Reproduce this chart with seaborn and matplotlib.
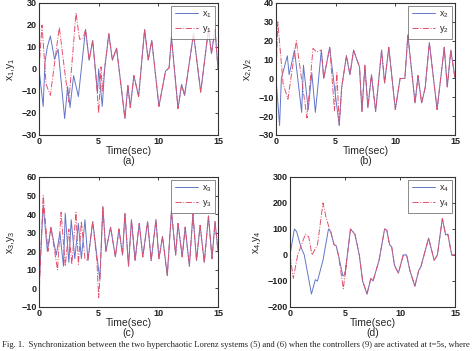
import numpy as np
import pandas as pd
import seaborn as sns
import matplotlib
matplotlib.use("Agg")
import matplotlib.pyplot as plt

# ---- values: (time, value) at peaks / troughs ----
# (a) x1, y1
x1_early = [(0, 0), (0.35, -17), (0.5, 3), (0.7, 10), (0.95, 15), (1.3, 4.5), (1.6, 9),
            (2.15, -22.5), (2.4, -8), (2.6, -17.5), (2.9, -3), (3.3, -12.5), (3.9, 18),
            (4.2, 4), (4.5, 13), (4.9, -11), (5.0, 0), (5.3, -17)]
y1_early = [(0, 0), (0.25, 20), (0.6, -7), (0.95, -12), (1.7, 19), (2.2, -3), (2.5, -15),
            (3.1, 25.5), (3.4, 13.5), (3.7, 14), (3.9, 18), (4.2, 4), (4.5, 13), (4.8, -5),
            (5.0, -20), (5.2, 1), (5.3, -10)]
sync1 = [(5.5, 0), (5.85, 16), (6.15, 4), (6.5, 9.5), (7.2, -22.5), (7.45, -7.5), (7.65, -17.5),
         (7.95, -3), (8.35, -12.5), (8.85, 18), (9.15, 4), (9.45, 13), (10.05, -17), (10.6, -1),
         (10.9, 0.5), (11.1, 14.5), (11.65, -18), (11.95, -7), (12.2, -12), (12.6, 3),
         (12.95, 16), (13.2, 5), (13.55, -10.5), (14.2, 18), (14.45, 7), (14.75, 18), (15, 0)]

# (b) x2, y2
x2_early = [(0, 0), (0.3, -25), (0.45, 0), (0.95, 12), (1.1, 2), (1.55, 15), (2.15, -18),
            (2.3, 7), (2.7, -16.5), (3.0, 3), (3.3, -18), (3.8, 15), (4.0, 0), (4.5, 16.5),
            (5.0, -10), (5.3, -25)]
y2_early = [(0, 0), (0.15, 30), (0.6, -3), (1.0, -11), (1.7, 20), (2.6, -21), (3.1, 16),
            (3.4, 14), (3.8, 15), (4.0, 0), (4.5, 16.5), (4.9, -17), (5.1, 3), (5.3, -25)]
sync2 = [(5.5, -5), (5.9, 12), (6.2, 2), (6.5, 15), (7.0, 6), (7.2, -17.5), (7.45, 7),
         (7.7, -15.5), (8.0, 2), (8.35, -17.5), (8.85, 15), (9.1, -2.5), (9.45, 16.5),
         (10.0, -16.5), (10.4, 0), (10.8, 0), (11.05, 23), (11.65, -13), (11.9, 1.5),
         (12.2, -13), (12.5, -5), (12.85, 19), (13.5, -16.5), (14.1, 16.5), (14.35, -4.5),
         (14.65, 15), (15, 0)]

# (c) x3, y3
x3_early = [(0, 0), (0.35, 45), (0.7, 20), (1.0, 33), (1.45, 18), (1.75, 30), (2.05, 12),
            (2.2, 40.5), (2.5, 14), (2.7, 37), (3.0, 16), (3.3, 35), (3.55, 16), (3.85, 37),
            (4.1, 15), (4.5, 36), (4.9, 15)]
y3_early = [(0, -4.5), (0.35, 50), (0.75, 20), (1.0, 33), (1.55, 10), (1.85, 41), (2.2, 12),
            (2.5, 32), (2.75, 13), (3.1, 41), (3.3, 13), (3.55, 36), (3.85, 16), (4.1, 15),
            (4.5, 36), (4.85, 15), (5.0, -5)]
sync3 = [(5.1, 4.5), (5.35, 44), (5.6, 20), (6.0, 33), (6.4, 17), (6.7, 32), (7.0, 18),
         (7.2, 40.5), (7.5, 12), (7.75, 37), (8.05, 15), (8.4, 35), (8.7, 17), (9.1, 36),
         (9.4, 15), (9.8, 37), (10.05, 16), (10.35, 28), (10.75, 7), (11.1, 41.5), (11.45, 18),
         (11.65, 35), (12.0, 17), (12.25, 33), (12.6, 12), (12.9, 40), (13.2, 15), (13.5, 34),
         (13.85, 14), (14.2, 39), (14.5, 16), (14.75, 36), (15, 20)]

# (d) x4, y4
x4_early = [(0, 0), (0.4, 100), (0.6, 90), (1.0, 30), (1.3, 0), (1.95, -150), (2.3, -95),
            (2.5, -100), (3.0, -20), (3.5, 100), (3.7, 90), (4.0, 40), (4.2, 35), (4.4, 0),
            (4.8, -80)]
y4_early = [(0, 0), (0.3, -90), (0.7, 0), (1.4, 80), (1.7, 70), (2.0, 0), (2.5, 40),
            (3.0, 200), (3.3, 140), (3.6, 100), (3.7, 90), (4.0, 40), (4.2, 35), (4.4, 0),
            (4.85, -130), (5.1, -40)]
sync4 = [(5.0, -75), (5.5, 100), (5.9, 80), (6.3, 0), (6.6, -100), (7.0, -150), (7.35, -90),
         (7.55, -100), (8.1, -20), (8.6, 100), (8.8, 95), (9.05, 40), (9.25, 30), (9.5, -40),
         (9.85, -70), (10.3, 0), (10.6, 0), (10.9, -60), (11.35, -120), (11.7, -60),
         (11.9, -45), (12.6, 65), (13.1, -20), (13.4, 0), (13.85, 140), (14.15, 77),
         (14.35, 80), (14.7, 0), (15, 0)]

panels = [
    ("a", 1, x1_early, y1_early, sync1, (-30, 30), np.arange(-30, 31, 10)),
    ("b", 2, x2_early, y2_early, sync2, (-30, 40), np.arange(-30, 41, 10)),
    ("c", 3, x3_early, y3_early, sync3, (-10, 60), np.arange(-10, 61, 10)),
    ("d", 4, x4_early, y4_early, sync4, (-200, 300), np.arange(-200, 301, 100)),
]

sns.set_style("white")
plt.rcParams["font.family"] = ["Liberation Sans", "DejaVu Sans"]
plt.rcParams["mathtext.default"] = "regular"

fig = plt.figure(figsize=(4.74, 3.51), dpi=100)
W, H = 474, 351
# axes boxes in pixels: left, top, right, bottom
boxes = [(39, 3, 218, 135), (276, 3, 455, 135), (39, 177, 218, 307), (290, 177, 455, 307)]

blue = "#6275c8"
red = "#e4506c"

for (tag, k, xe, ye, sy, ylim, yticks), (l, t, r, b) in zip(panels, boxes):
    ax = fig.add_axes([l / W, 1 - b / H, (r - l) / W, (b - t) / H])
    xs = pd.DataFrame(xe + sy, columns=["t", "v"])
    ys = pd.DataFrame(ye + sy, columns=["t", "v"])
    sns.lineplot(data=xs, x="t", y="v", ax=ax, color=blue, lw=0.7, sort=False,
                 estimator=None, label=f"x$_{k}$", solid_joinstyle="round")
    sns.lineplot(data=ys, x="t", y="v", ax=ax, color=red, lw=0.7, sort=False,
                 estimator=None, linestyle="-.", label=f"y$_{k}$")
    ax.set_xlim(0, 15)
    ax.set_ylim(*ylim)
    ax.set_xticks([0, 5, 10, 15])
    ax.set_yticks(yticks)
    ax.tick_params(direction="in", length=2.5, width=0.6, labelsize=6.5, pad=1.5,
                   top=True, right=True, colors="#222222")
    for lab in ax.get_xticklabels() + ax.get_yticklabels():
        lab.set_fontweight("bold")
    for s in ax.spines.values():
        s.set_linewidth(0.8)
        s.set_color("#333333")
    ax.set_xlabel(f"Time(sec)\n({tag})", fontsize=7.5, labelpad=0, linespacing=0.95)
    ax.set_ylabel(f"x$_{k}$,y$_{k}$", fontsize=7.5, labelpad=3)
    leg = ax.legend(loc="upper right", fontsize=6.5, frameon=True, fancybox=False,
                    borderaxespad=0.3, handlelength=2.6, handletextpad=0.4,
                    borderpad=0.4, labelspacing=0.5)
    leg.get_frame().set_edgecolor("#555555")
    leg.get_frame().set_linewidth(0.6)

fig.text(0.004, 0.006, "Fig. 1.  Synchronization between the two hyperchaotic Lorenz systems (5) "
         "and (6) when the controllers (9) are activated at t=5s, where",
         family=["Liberation Serif", "DejaVu Serif"], fontsize=6.2, ha="left", va="bottom",
         color="#222222")

fig.savefig("out.png", dpi=100)
